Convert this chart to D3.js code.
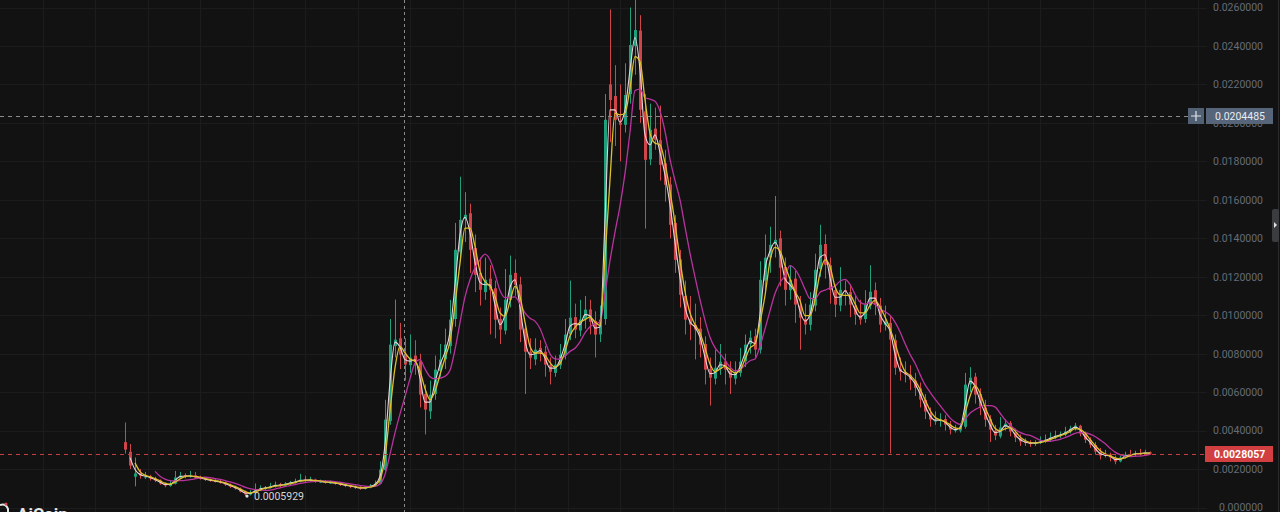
<!DOCTYPE html>
<html><head><meta charset="utf-8">
<script src="https://cdn.jsdelivr.net/npm/d3@7"></script>
<style>html,body{margin:0;padding:0;background:#121212;overflow:hidden}svg{display:block}</style>
</head><body><svg id="c" width="1280" height="512"></svg>
<script>
const opens = [
0.00340,0.00290,0.00160,0.00180,0.00158,0.00163,0.00152,0.00141,0.00126,0.00112,
0.00124,0.00155,0.00168,0.00160,0.00168,0.00157,0.00150,0.00146,0.00138,0.00134,
0.00131,0.00118,0.00108,0.00098,0.00084,0.00067,0.00079,0.00093,0.00098,0.00103,
0.00110,0.00120,0.00113,0.00124,0.00129,0.00136,0.00146,0.00139,0.00146,0.00134,
0.00136,0.00129,0.00131,0.00126,0.00120,0.00115,0.00110,0.00105,0.00098,0.00103,
0.00113,0.00124,0.00195,0.00450,0.00840,0.00880,0.00800,0.00740,0.00790,0.00760,
0.00590,0.00500,0.00590,0.00710,0.00770,0.00840,0.00980,0.01330,0.01500,0.01530,
0.01350,0.01220,0.01120,0.01190,0.01140,0.00980,0.00920,0.01080,0.01220,0.01160,
0.00930,0.00810,0.00770,0.00830,0.00810,0.00740,0.00700,0.00740,0.00790,0.00900,
0.00990,0.00920,0.00980,0.01030,0.00970,0.00900,0.00980,0.02200,0.02140,0.02000,
0.01990,0.02150,0.02400,0.02480,0.02060,0.01810,0.01970,0.01910,0.01790,0.01680,
0.01480,0.01290,0.01100,0.00980,0.00950,0.00930,0.00850,0.00720,0.00670,0.00720,
0.00760,0.00710,0.00670,0.00700,0.00760,0.00850,0.00890,0.00820,0.01180,0.01300,
0.01370,0.01400,0.01250,0.01130,0.01190,0.01050,0.00980,0.00950,0.01050,0.01240,
0.01370,0.01260,0.01130,0.01050,0.01130,0.01120,0.01050,0.01000,0.00980,0.01050,
0.01130,0.01050,0.00950,0.00960,0.00870,0.00720,0.00700,0.00690,0.00660,0.00620,
0.00560,0.00490,0.00450,0.00450,0.00460,0.00430,0.00400,0.00400,0.00420,0.00640,
0.00680,0.00590,0.00520,0.00460,0.00400,0.00370,0.00420,0.00440,0.00390,0.00360,
0.00340,0.00335,0.00330,0.00338,0.00342,0.00352,0.00362,0.00375,0.00378,0.00395,
0.00410,0.00425,0.00385,0.00352,0.00325,0.00290,0.00268,0.00276,0.00258,0.00240,
0.00260,0.00276,0.00274,0.00282,0.00280,0.00286];
const highs = [
0.00442,0.00330,0.00260,0.00200,0.00185,0.00170,0.00160,0.00146,0.00130,0.00138,
0.00190,0.00185,0.00178,0.00190,0.00185,0.00165,0.00158,0.00152,0.00150,0.00145,
0.00136,0.00125,0.00114,0.00104,0.00088,0.00090,0.00125,0.00115,0.00112,0.00128,
0.00135,0.00128,0.00132,0.00138,0.00150,0.00175,0.00165,0.00160,0.00150,0.00145,
0.00142,0.00140,0.00136,0.00130,0.00126,0.00120,0.00116,0.00110,0.00112,0.00122,
0.00140,0.00240,0.00560,0.00980,0.01081,0.00960,0.00880,0.00900,0.00870,0.00800,
0.00640,0.00660,0.00790,0.00850,0.00930,0.01080,0.01480,0.01720,0.01640,0.01580,
0.01420,0.01300,0.01300,0.01260,0.01180,0.01040,0.01240,0.01310,0.01290,0.01200,
0.00960,0.00880,0.00880,0.00870,0.00840,0.00780,0.00790,0.00850,0.00980,0.01180,
0.01060,0.01080,0.01100,0.01080,0.01020,0.01050,0.02150,0.02590,0.02300,0.02200,
0.02310,0.02600,0.02660,0.02560,0.02150,0.02100,0.02080,0.02090,0.01860,0.01720,
0.01520,0.01340,0.01180,0.01100,0.01060,0.00990,0.00890,0.00780,0.00820,0.00850,
0.00800,0.00760,0.00760,0.00830,0.00900,0.00920,0.00930,0.01280,0.01420,0.01460,
0.01620,0.01440,0.01300,0.01260,0.01230,0.01100,0.01060,0.01120,0.01320,0.01470,
0.01420,0.01300,0.01160,0.01250,0.01180,0.01160,0.01100,0.01080,0.01130,0.01260,
0.01170,0.01090,0.01050,0.01000,0.00900,0.00780,0.00760,0.00740,0.00700,0.00650,
0.00590,0.00520,0.00500,0.00490,0.00480,0.00450,0.00430,0.00440,0.00700,0.00730,
0.00700,0.00620,0.00560,0.00480,0.00430,0.00470,0.00460,0.00450,0.00410,0.00380,
0.00360,0.00350,0.00350,0.00370,0.00380,0.00390,0.00400,0.00395,0.00420,0.00425,
0.00440,0.00430,0.00395,0.00365,0.00340,0.00310,0.00300,0.00285,0.00270,0.00270,
0.00290,0.00300,0.00295,0.00305,0.00300,0.00292];
const lows = [
0.00280,0.00200,0.00110,0.00150,0.00148,0.00140,0.00132,0.00118,0.00105,0.00108,
0.00120,0.00150,0.00152,0.00155,0.00150,0.00145,0.00138,0.00134,0.00130,0.00124,
0.00112,0.00102,0.00092,0.00078,0.00059,0.00062,0.00075,0.00088,0.00090,0.00098,
0.00104,0.00106,0.00108,0.00118,0.00124,0.00130,0.00132,0.00135,0.00128,0.00127,
0.00124,0.00122,0.00118,0.00112,0.00106,0.00100,0.00096,0.00092,0.00094,0.00100,
0.00108,0.00120,0.00190,0.00430,0.00780,0.00720,0.00660,0.00700,0.00690,0.00520,
0.00380,0.00460,0.00560,0.00680,0.00720,0.00800,0.00940,0.01280,0.01380,0.01220,
0.01120,0.01050,0.01080,0.00900,0.00880,0.00850,0.00900,0.01040,0.01100,0.00860,
0.00590,0.00720,0.00740,0.00760,0.00680,0.00640,0.00680,0.00720,0.00770,0.00870,
0.00880,0.00890,0.00930,0.00900,0.00780,0.00860,0.00950,0.01900,0.01880,0.01800,
0.01950,0.02100,0.02250,0.02000,0.01450,0.01780,0.01860,0.01700,0.01590,0.01400,
0.01220,0.01040,0.00900,0.00870,0.00770,0.00780,0.00640,0.00530,0.00640,0.00690,
0.00640,0.00590,0.00640,0.00680,0.00730,0.00800,0.00780,0.00800,0.01120,0.01220,
0.01300,0.01150,0.01050,0.01080,0.00960,0.00820,0.00900,0.00920,0.01020,0.01200,
0.01190,0.01060,0.00990,0.01020,0.01050,0.00990,0.00950,0.00950,0.00960,0.01030,
0.01000,0.00910,0.00920,0.00281,0.00690,0.00660,0.00650,0.00610,0.00580,0.00520,
0.00460,0.00420,0.00430,0.00420,0.00400,0.00380,0.00390,0.00390,0.00410,0.00600,
0.00540,0.00480,0.00420,0.00340,0.00350,0.00360,0.00400,0.00370,0.00340,0.00320,
0.00320,0.00315,0.00320,0.00330,0.00335,0.00345,0.00355,0.00360,0.00370,0.00385,
0.00400,0.00370,0.00335,0.00310,0.00275,0.00250,0.00260,0.00240,0.00225,0.00235,
0.00255,0.00265,0.00268,0.00270,0.00272,0.00274];
const closes = [
0.00301,0.00218,0.00177,0.00166,0.00161,0.00151,0.00140,0.00125,0.00114,0.00125,
0.00156,0.00166,0.00161,0.00166,0.00156,0.00151,0.00145,0.00140,0.00135,0.00130,
0.00119,0.00109,0.00099,0.00083,0.00068,0.00078,0.00094,0.00099,0.00104,0.00109,
0.00119,0.00114,0.00125,0.00130,0.00135,0.00145,0.00140,0.00145,0.00135,0.00135,
0.00130,0.00130,0.00125,0.00119,0.00114,0.00109,0.00104,0.00099,0.00104,0.00114,
0.00125,0.00197,0.00457,0.00847,0.00873,0.00795,0.00743,0.00779,0.00758,0.00587,
0.00509,0.00587,0.00717,0.00769,0.00847,0.00977,0.01340,0.01496,0.01522,0.01340,
0.01210,0.01132,0.01184,0.01132,0.00977,0.00925,0.01081,0.01210,0.01158,0.00925,
0.00810,0.00779,0.00821,0.00810,0.00743,0.00706,0.00743,0.00795,0.00899,0.00987,
0.00925,0.00977,0.01029,0.00966,0.00899,0.00977,0.02016,0.02119,0.02016,0.01990,
0.02145,0.02405,0.02483,0.02068,0.01808,0.01964,0.01912,0.01782,0.01678,0.01470,
0.01288,0.01106,0.00977,0.00951,0.00925,0.00847,0.00717,0.00675,0.00727,0.00758,
0.00717,0.00675,0.00706,0.00758,0.00847,0.00883,0.00821,0.01184,0.01299,0.01366,
0.01392,0.01247,0.01132,0.01184,0.01055,0.00987,0.00951,0.01055,0.01236,0.01366,
0.01262,0.01132,0.01055,0.01132,0.01122,0.01055,0.01003,0.00977,0.01055,0.01122,
0.01055,0.00951,0.00966,0.00873,0.00727,0.00706,0.00691,0.00665,0.00623,0.00561,
0.00499,0.00457,0.00452,0.00457,0.00431,0.00405,0.00405,0.00421,0.00639,0.00675,
0.00587,0.00525,0.00457,0.00405,0.00374,0.00416,0.00436,0.00395,0.00364,0.00343,
0.00338,0.00332,0.00338,0.00343,0.00353,0.00364,0.00374,0.00379,0.00395,0.00410,
0.00426,0.00384,0.00353,0.00327,0.00291,0.00270,0.00275,0.00260,0.00239,0.00260,
0.00275,0.00275,0.00281,0.00281,0.00286,0.0028057];

const yTicks = [0,0.002,0.004,0.006,0.008,0.010,0.012,0.014,0.016,0.018,0.020,0.022,0.024,0.026];
const maPeriods = {white:2, yellow:3, magenta:7};
const lastPrice = 0.0028057;
const crossPrice = 0.0204485;
const crossIndex = 55.8;
const lowPrice = 0.0005929;
const lowIndex = 24;

const W = 1280, H = 512, plotRight = 1207;
const svg = d3.select('#c');
const x = d3.scaleLinear().domain([0, closes.length - 1]).range([125, 1150]);
const y = d3.scaleLinear().domain([0, 0.026]).range([507.5, 7.5]);
const UP = '#1f9f7c', DOWN = '#d0454a';
const font = 'Roboto, "Liberation Sans", Arial, sans-serif';

svg.append('rect').attr('width', W).attr('height', H).attr('fill', '#121212');

// grid
const grid = svg.append('g').attr('stroke', '#1c1c1e').attr('stroke-width', 1);
grid.selectAll('line.h').data(yTicks).join('line').attr('class','h')
  .attr('x1', 0).attr('x2', plotRight)
  .attr('y1', d => Math.round(y(d)) + 0.5).attr('y2', d => Math.round(y(d)) + 0.5);
grid.selectAll('line.v').data(d3.range(-16.5, 216, 10.5)).join('line').attr('class','v')
  .attr('x1', d => Math.round(x(d)) + 0.5).attr('x2', d => Math.round(x(d)) + 0.5)
  .attr('y1', 0).attr('y2', H);

// candles
const data = closes.map((c, i) => ({i, o: opens[i], h: highs[i], l: lows[i], c}));
const cg = svg.append('g');
const candle = cg.selectAll('g').data(data).join('g')
  .attr('fill', d => d.c >= d.o ? UP : DOWN)
  .attr('stroke', d => d.c >= d.o ? UP : DOWN);
candle.append('line')
  .attr('x1', d => Math.round(x(d.i)) + 0.5).attr('x2', d => Math.round(x(d.i)) + 0.5)
  .attr('y1', d => y(d.h)).attr('y2', d => y(d.l)).attr('stroke-width', 1);
candle.append('rect')
  .attr('stroke', 'none')
  .attr('x', d => Math.round(x(d.i)) - 1).attr('width', 3)
  .attr('y', d => y(Math.max(d.o, d.c)))
  .attr('height', d => Math.max(1, Math.abs(y(d.o) - y(d.c))));

// moving averages
function ma(n) {
  return closes.map((c, i) => i < n - 1 ? null : d3.mean(closes.slice(i - n + 1, i + 1)));
}
const line = d3.line().defined(d => d != null).x((d, i) => x(i)).y(d => y(d)).curve(d3.curveMonotoneX);
[['white', '#e9d3dc', 1.1], ['magenta', '#b9339f', 1.3], ['yellow', '#dcc12c', 1.3]].forEach(([k, col, w]) => {
  svg.append('path').datum(ma(maPeriods[k])).attr('d', line)
    .attr('fill', 'none').attr('stroke', col).attr('stroke-width', w).attr('stroke-linejoin', 'round');
});

// crosshair
svg.append('line').attr('x1', Math.round(x(crossIndex)) + 0.5).attr('x2', Math.round(x(crossIndex)) + 0.5)
  .attr('y1', 0).attr('y2', H).attr('stroke', '#8a8a8a').attr('stroke-width', 1).attr('stroke-dasharray', '3,3');
svg.append('line').attr('x1', 0).attr('x2', 1188)
  .attr('y1', Math.round(y(crossPrice)) + 2.5).attr('y2', Math.round(y(crossPrice)) + 2.5)
  .attr('stroke', '#8a8a8a').attr('stroke-width', 1).attr('stroke-dasharray', '4,4');

// last price line
svg.append('line').attr('x1', 0).attr('x2', 1205)
  .attr('y1', Math.round(y(lastPrice)) + 0.5).attr('y2', Math.round(y(lastPrice)) + 0.5)
  .attr('stroke', '#c2403f').attr('stroke-width', 1).attr('stroke-dasharray', '4,4');

// y axis
const axis = d3.axisRight(y).tickValues(yTicks).tickSize(0).tickPadding(0)
  .tickFormat(d => d === 0 ? '0.000000' : d3.format('.7f')(d));
const ag = svg.append('g').attr('transform', 'translate(1214,0)').call(axis);
ag.select('.domain').remove();
ag.selectAll('text').attr('fill', '#656c78').attr('font-size', '10.5px').attr('font-family', font)
  .attr('text-anchor', 'end').attr('x', 49);

// crosshair price label
const cy = Math.round(y(crossPrice)) + 2;
svg.append('rect').attr('x', 1188).attr('y', cy - 8).attr('width', 16).attr('height', 16).attr('fill', '#526074');
svg.append('path').attr('d', `M1196,${cy-5}V${cy+5}M1191,${cy}H1201`).attr('stroke', '#dfe4ea').attr('stroke-width', 1.2);
svg.append('rect').attr('x', 1206).attr('y', cy - 8).attr('width', 67).attr('height', 16).attr('fill', '#56657a');
svg.append('text').attr('x', 1215).attr('y', cy + 4).text(d3.format('.7f')(crossPrice))
  .attr('fill', '#e8ecf1').attr('font-size', '10.5px').attr('font-family', font);

// last price label
const ly = Math.round(y(lastPrice));
svg.append('rect').attr('x', 1205).attr('y', ly - 8).attr('width', 68).attr('height', 16).attr('fill', '#d23f40');
svg.append('text').attr('x', 1214).attr('y', ly + 4).text(d3.format('.7f')(lastPrice))
  .attr('fill', '#ffffff').attr('font-size', '10.5px').attr('font-family', font).attr('font-weight', 'bold');

// low marker
svg.append('circle').attr('cx', x(lowIndex) + 2).attr('cy', y(lowPrice)).attr('r', 1.6).attr('fill', '#e0e0e0');
svg.append('text').attr('x', x(lowIndex) + 9).attr('y', y(lowPrice) + 4).text(d3.format('.7f')(lowPrice))
  .attr('fill', '#d6d6d6').attr('font-size', '10.5px').attr('font-family', font);

// right edge handle
svg.append('line').attr('x1', 1278.5).attr('x2', 1278.5).attr('y1', 0).attr('y2', H).attr('stroke', '#2b2b2e');
svg.append('rect').attr('x', 1272).attr('y', 209).attr('width', 7).attr('height', 33).attr('rx', 2).attr('fill', '#3b3c40');
svg.append('path').attr('d', 'M1274,222L1277,225L1274,228Z').attr('fill', '#e0e0e0');

// logo
svg.append('path').attr('d', 'M0,505 Q6,503 8,509 L8,512').attr('fill', 'none').attr('stroke', '#e6e6e6').attr('stroke-width', 2);
svg.append('circle').attr('cx', 6).attr('cy', 504).attr('r', 1.5).attr('fill', '#e04848');
svg.append('text').attr('x', 17).attr('y', 520).text('AiCoin')
  .attr('fill', '#e6e6e6').attr('font-size', '17px').attr('font-weight', 'bold').attr('font-family', font);
</script>
</body></html>
